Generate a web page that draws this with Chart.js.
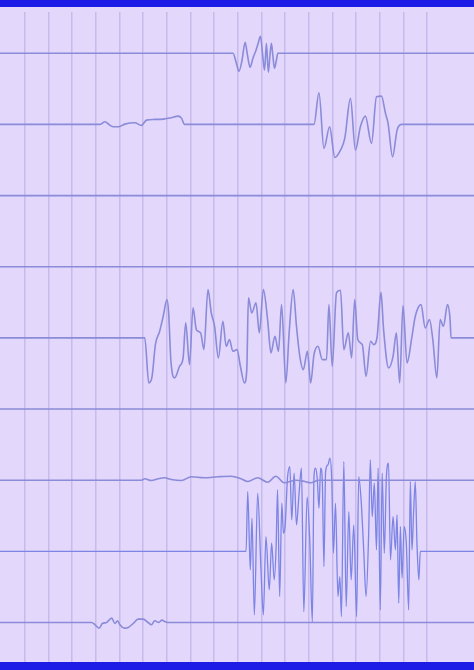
<!DOCTYPE html>
<html>
<head>
<meta charset="utf-8">
<script src="https://cdn.jsdelivr.net/npm/chart.js@4.4.1/dist/chart.umd.min.js"></script>
<style>
  html, body { margin: 0; padding: 0; background: #e3d7fb; }
  #wrap {
    width: 474px; height: 655px;
    border-top: 7px solid #1c1ce6;
    border-bottom: 8px solid #1c1ce6;
    background: #e3d7fb;
    box-sizing: content-box;
    overflow: hidden;
  }
  #pad { height: 5px; }
  canvas { display: block; }
</style>
</head>
<body>
<div id="wrap"><div id="pad"></div><canvas id="c" width="474" height="650"></canvas></div>
<script>
// Time axis (seconds, one grid division per second)
const timeMin = -0.046;
const timeMax = 19.98;

// Channel 0
const ch0Time = [9.80, 9.93, 10.05, 10.18, 10.31, 10.41, 10.52, 10.64, 10.77, 10.85, 10.96, 11.04, 11.13, 11.21, 11.29, 11.36, 11.42, 11.48, 11.55, 11.63, 11.69];
const ch0Amp  = [0, -9, -18, -7, 11, -2, -14, -5, 3, 9, 17, 1, -17, 10, -19, -2, 10, -2, -15, -7, 0];

// Channel 1
const ch1Time = [4.18, 4.39, 4.59, 4.74, 4.95, 5.23, 5.65, 5.93, 6.14, 6.49, 6.85, 7.19, 7.48, 7.62, 7.75,
                 13.22, 13.43, 13.64, 13.88, 14.10, 14.34, 14.52, 14.76, 14.97, 15.18, 15.39, 15.65, 15.86, 16.07, 16.24, 16.35, 16.54, 16.73, 16.94];
const ch1Amp  = [0, 2.6, -0.7, -2.4, -2.4, 0.3, 1.6, -1, 4.3, 5, 5.3, 6.6, 8.3, 6.3, 0,
                 0, 31.6, -24, -2.4, -33, -25.7, -14, 26, -25.7, -2.4, 8.3, -19, 27.6, 28.3, 11, 1, -32.4, -5.7, 0];

// Channels 2, 3, 5: flat
const ch2Time = []; const ch2Amp = [];
const ch3Time = []; const ch3Amp = [];
const ch5Time = []; const ch5Amp = [];

// Channel 4
const ch4Time = [6.07, 6.24, 6.38, 6.52, 6.70, 6.85, 7.01, 7.08, 7.17, 7.33, 7.54, 7.69, 7.80, 7.96, 8.11, 8.25, 8.43, 8.57, 8.74, 8.88,
                 9.02, 9.18, 9.37, 9.51, 9.65, 9.79, 9.97, 10.11, 10.28, 10.38, 10.45, 10.59, 10.77, 10.91, 11.08, 11.26, 11.40, 11.57, 11.72, 11.85,
                 12.03, 12.17, 12.34, 12.48, 12.62, 12.77, 12.94, 13.08, 13.22, 13.39, 13.57, 13.75, 13.85, 13.99, 14.17, 14.34, 14.48, 14.67, 14.81, 14.94,
                 15.07, 15.26, 15.42, 15.61, 15.74, 15.89, 16.05, 16.16, 16.37, 16.56, 16.70, 16.84, 16.98, 17.15, 17.36, 17.50, 17.74, 17.92, 18.10, 18.24,
                 18.41, 18.55, 18.69, 18.86, 18.97, 19.01];
const ch4Amp  = [0, -45, -38.4, -6.7, 6.6, 21.6, 38.3, 25, -21.7, -40, -28.4, -20, 15, -26.7, 30, 8.3, 5, -11.7, 48.3, 25,
                 11.6, -20, 16.6, -8.4, -1.7, -13.4, -11.7, -28.4, -45, -31.7, 40, 25, 35, 5, 48.3, 18.3, -15, 1.6, -13.4, 33.3,
                 -45, 5, 48.3, 11.6, -18.4, -31.7, -13.4, -45, -16.7, -8.4, -21.7, -21.7, 33.3, -28.4, 45, 47.6, -11.7, 5, -20, 38.3,
                 -1.7, -6.7, -38.4, -3.4, -6.7, 1.6, 45.6, 8.3, -30, -18.4, 5, -45, 32.3, -25, 1.6, 21.6, 33.3, 10, 18.3, -1.7,
                 -40, 18.3, 11.6, 33.3, 18.3, 0];

// Channel 6
const ch6Time = [5.93, 6.07, 6.35, 6.64, 6.91, 7.19, 7.62, 8.04, 8.58, 9.16, 9.72, 10.14, 10.42, 10.84, 11.26, 11.61, 11.96, 12.45, 12.79, 13.08, 13.42];
const ch6Amp  = [0, 1.4, -0.3, 1.4, 2.4, 0.7, -0.3, 3.4, 2.4, 3.4, 4, 1.4, -1.3, 2.4, -2, 4, -2.6, 0, -1, -2.6, 0];

// Channel 7
const ch7Time = [10.35, 10.42, 10.53, 10.60, 10.70, 10.84, 10.98, 11.08, 11.19, 11.33, 11.43, 11.54, 11.62, 11.68, 11.77, 11.86, 11.93, 12.00, 12.10, 12.20,
                 12.28, 12.38, 12.48, 12.59, 12.69, 12.79, 12.93, 13.04, 13.15, 13.22, 13.29, 13.36, 13.43, 13.50, 13.57, 13.64, 13.71, 13.81, 13.89, 13.97,
                 14.04, 14.13, 14.23, 14.31, 14.38, 14.48, 14.58, 14.69, 14.79, 14.90, 15.02, 15.11, 15.21, 15.32, 15.42, 15.53, 15.60, 15.68, 15.77, 15.86,
                 15.93, 16.02, 16.10, 16.19, 16.28, 16.37, 16.45, 16.56, 16.66, 16.73, 16.80, 16.87, 16.94, 17.03, 17.12, 17.22, 17.29, 17.36, 17.43, 17.50,
                 17.57, 17.65, 17.71];
const ch7Amp  = [0, 59.8, -18.5, 33.2, -63.5, 58.2, -18.5, -63.5, 14.8, -38.5, 8.2, -28.5, 4.8, 61.5, -45.2, 48.2, 18.2, 24.8, 73.2, 84.8,
                 31.5, 78.2, 26.5, 58.2, 83.2, -60.5, 54.5, 11.5, -70.5, 74.8, 83.2, 71.5, 43.2, 83.2, 71.5, -15.2, 79.8, 86.5, 93.2, 71.5,
                 -1.8, 48.2, -45.2, -25.2, -65.2, 89.8, -55.2, 39.8, -28.5, 26.5, -65.2, 74.8, 51.5, 1.5, -45.2, 18.2, 91.5, 34.8, 68.2, 1.5,
                 83.2, -58.5, 78.2, -1.8, 74.8, 88.2, -8.5, 34.8, 1.5, 36.5, -51.8, 24.8, -26.8, 24.8, 8.2, -58.5, 69.8, 1.5, 39.8, 69.8,
                 8.2, -28.5, 0];

// Channel 8
const ch8Time = [3.83, 3.97, 4.14, 4.28, 4.46, 4.67, 4.81, 4.92, 5.02, 5.21, 5.37, 5.58, 5.79, 6.00, 6.21, 6.35, 6.49, 6.66, 6.80, 6.91, 7.03];
const ch8Amp  = [0, -2.3, -5.6, -1, 0, 4.4, -1, 1.7, -2.3, -5.6, -5, -1, 3.4, 3.4, 0, -2.3, 1.7, 0, 2.4, 1, 0];

const channelTimes = [ch0Time, ch1Time, ch2Time, ch3Time, ch4Time, ch5Time, ch6Time, ch7Time, ch8Time];
const channelAmps  = [ch0Amp, ch1Amp, ch2Amp, ch3Amp, ch4Amp, ch5Amp, ch6Amp, ch7Amp, ch8Amp];

// amplitude units per channel spacing (gain)
const gain = 71.15;

const traceColor = '#8a8bd9';
const denseColor = '#7c84e4';

const datasets = channelTimes.map((times, k) => {
  const amps = channelAmps[k];
  const pts = [{x: timeMin, y: k}];
  times.forEach((t, i) => pts.push({x: t, y: k - amps[i] / gain}));
  pts.push({x: timeMax, y: k});
  return {
    data: pts,
    borderColor: k === 7 ? denseColor : traceColor,
    borderWidth: k === 7 ? 1.3 : 1.6,
    pointRadius: 0,
    fill: false,
    cubicInterpolationMode: 'monotone',
    tension: 0.4,
  };
});

new Chart(document.getElementById('c'), {
  type: 'line',
  data: { datasets },
  options: {
    responsive: false,
    animation: false,
    devicePixelRatio: 1,
    layout: { padding: 0 },
    plugins: { legend: { display: false }, tooltip: { enabled: false } },
    scales: {
      x: {
        type: 'linear',
        min: timeMin,
        max: timeMax,
        ticks: { display: false, stepSize: 1 },
        border: { display: false },
        grid: {
          drawTicks: false,
          lineWidth: 1.5,
          color: (ctx) => {
            const v = ctx.tick ? ctx.tick.value : 0;
            return (Math.abs(v - Math.round(v)) < 1e-6 && v >= 1 && v <= 19) ? '#c7bbed' : 'rgba(0,0,0,0)';
          }
        }
      },
      y: {
        type: 'linear',
        display: false,
        reverse: true,
        min: -0.58,
        max: 8.555
      }
    }
  }
});
</script>
</body>
</html>
